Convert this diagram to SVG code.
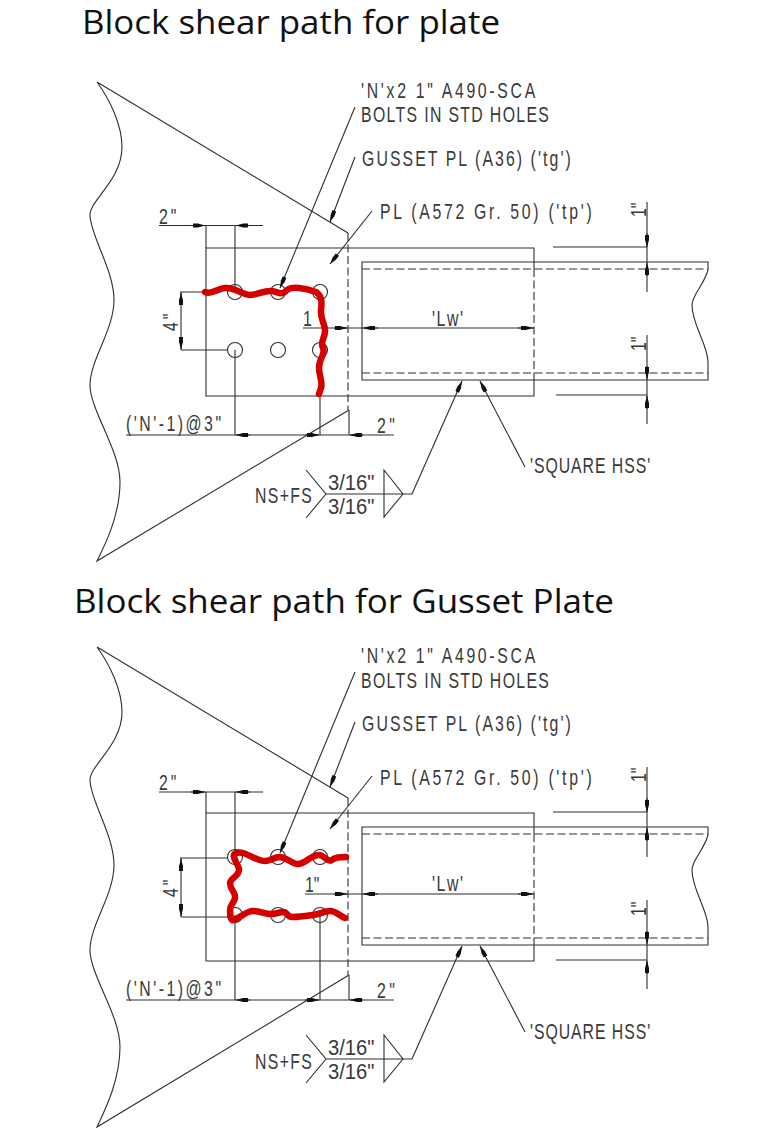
<svg xmlns="http://www.w3.org/2000/svg" width="782" height="1145" viewBox="0 0 782 1145">
<style>
.l{fill:none;stroke:#2e2e2e;stroke-width:1.1}
.d{fill:none;stroke:#2e2e2e;stroke-width:1.1;stroke-dasharray:8 3.5}
.a{fill:none;stroke:#2e2e2e;stroke-width:1.1;marker-end:url(#ah)}
.t{font-family:"Liberation Sans",sans-serif;font-size:22px;fill:#3a3a3a}
.h{font-family:"Open Sans","Noto Sans",sans-serif;font-size:33px;fill:#111}
.r{fill:none;stroke:#d40000;stroke-width:6.5;stroke-linecap:round;stroke-linejoin:round}
</style>
<defs>
<marker id="ah" markerUnits="userSpaceOnUse" markerWidth="13" markerHeight="7" refX="12" refY="3.5" orient="auto"><path d="M0,1.5 L5,1.5 L12,3.5 L5,5.5 L0,5.5 Z" fill="#111"/></marker>
</defs>
<rect width="782" height="1145" fill="#fff"/>
<text class="h" x="82" y="34" textLength="418" lengthAdjust="spacingAndGlyphs">Block shear path for plate</text>
<text class="h" x="74" y="613" textLength="540" lengthAdjust="spacingAndGlyphs">Block shear path for Gusset Plate</text>

<g id="drawing-plate">
<path class="l" d="M97,82 C110,100 122,125 122,147 C122,180 90,200 90,215 C90,235 114,270 114,300 C114,330 90,360 90,385 C90,410 120,450 120,482 C120,515 105,545 97,561 L349,410 M97,82 L348,233"/>
<path class="d" d="M348,233 V410"/>
<path class="l" d="M534,269 V248 H206 V396 H534 V373"/>
<path class="d" d="M534,269 V373"/>
<path class="l" d="M362,262 H708 V270 C704,285 692,295 692,305 C692,325 708,345 708,362 V380 H362 Z"/>
<path class="d" d="M362,269 H708 M362,373 H708"/>
<g id="holes-plate"><circle cx="235" cy="292" r="7.5" class="l"/><circle cx="278" cy="292" r="7.5" class="l"/><circle cx="320" cy="292" r="7.5" class="l"/><circle cx="235" cy="350" r="7.5" class="l"/><circle cx="278" cy="350" r="7.5" class="l"/><circle cx="320" cy="350" r="7.5" class="l"/></g>
<g id="connectors-plate">
<path class="l" d="M159,225.5 H263 M235,225.5 V288 M206,225.5 V248 M180,292 H206 M181,350 H228 M181,292 V350 M303,328 H534 M235,350 V435 M320,396 V435 M349,410 V435 M126,435 H394"/>
<path class="a" d="M191,225.5 H205"/><path class="a" d="M250,225.5 H236"/>
<path class="a" d="M181,305 V293"/><path class="a" d="M181,337 V349"/>
<path class="a" d="M334,328 H347"/><path class="a" d="M378,328 H363"/><path class="a" d="M518,328 H533"/>
<path class="a" d="M250,435 H236"/><path class="a" d="M305,435 H319"/><path class="a" d="M363,435 H350"/>
<path class="a" d="M355,107 L280,288"/><path class="a" d="M355,157 L330,222"/><path class="a" d="M372,211 L330,264"/>
<path class="a" d="M525,467 L480,381"/><path class="a" d="M412,494 L462,381"/>
<path class="l" d="M306,470 L326,494 L306,518 M326,494 H412 M384,470 L403,494 L384,517 Z"/>
<path class="l" d="M647,202 V292 M553,247 H647 M647,335 V424 M556,395 H647"/>
<path class="a" d="M647,233 V247"/><path class="a" d="M647,276 V263"/><path class="a" d="M647,366 V379"/><path class="a" d="M647,409 V396"/>
</g>
<text class="t" transform="translate(361,98) scale(.72,1)" textLength="242" lengthAdjust="spacing">'N'x2 1" A490-SCA</text>
<text class="t" transform="translate(361,122) scale(.72,1)" textLength="261" lengthAdjust="spacing">BOLTS IN STD HOLES</text>
<text class="t" transform="translate(362,166) scale(.72,1)" textLength="290" lengthAdjust="spacing">GUSSET PL (A36) ('tg')</text>
<text class="t" transform="translate(380,219) scale(.72,1)" textLength="294" lengthAdjust="spacing">PL (A572 Gr. 50) ('tp')</text>
<text class="t" transform="translate(159,224) scale(.72,1)" textLength="24" lengthAdjust="spacing">2"</text>
<text class="t" transform="translate(178,331) rotate(-90) scale(.72,1)" textLength="24" lengthAdjust="spacing">4"</text>
<text class="t" transform="translate(303,326) scale(.72,1)">1</text>
<text class="t" transform="translate(432,326) scale(.72,1)" textLength="43" lengthAdjust="spacing">'Lw'</text>
<text class="t" transform="translate(126,431) scale(.72,1)" textLength="132" lengthAdjust="spacing">('N'-1)@3"</text>
<text class="t" transform="translate(377,433) scale(.72,1)" textLength="25" lengthAdjust="spacing">2"</text>
<text class="t" transform="translate(255,503) scale(.72,1)" textLength="79" lengthAdjust="spacing">NS+FS</text>
<text class="t" transform="translate(328,490) scale(.92,1)">3/16"</text>
<text class="t" transform="translate(328,514) scale(.92,1)">3/16"</text>
<text class="t" transform="translate(530,473) scale(.72,1)" textLength="167" lengthAdjust="spacing">'SQUARE HSS'</text>
<text class="t" transform="translate(646,217) rotate(-90) scale(.72,1)">1"</text>
<text class="t" transform="translate(646,351) rotate(-90) scale(.72,1)">1"</text>
<path id="shear-path-plate" class="r" d="M205,292 C212,295 216,289 225,288 C235,287 240,294 250,295 C258,295 264,290 272,291 C278,292 282,296 287,290 C292,286 305,288 316,292 C322,296 322,302 321,310 C320,320 326,325 325,332 C324,340 320,342 323,348 C326,354 319,358 319,368 C319,376 323,382 321,388 L319,394"/>
</g>

<g id="drawing-gusset">
<path class="l" d="M97,647 C110,665 122,690 122,712 C122,745 90,765 90,780 C90,800 114,835 114,865 C114,895 90,925 90,950 C90,975 120,1015 120,1047 C120,1080 105,1110 97,1127 L349,975 M97,647 L348,798"/>
<path class="d" d="M348,798 V975"/>
<path class="l" d="M534,834 V813 H206 V961 H534 V938"/>
<path class="d" d="M534,834 V938"/>
<path class="l" d="M362,827 H708 V835 C704,850 692,860 692,870 C692,890 708,910 708,927 V945 H362 Z"/>
<path class="d" d="M362,834 H708 M362,938 H708"/>
<g id="holes-gusset"><circle cx="235" cy="857" r="7.5" class="l"/><circle cx="278" cy="857" r="7.5" class="l"/><circle cx="320" cy="857" r="7.5" class="l"/><circle cx="235" cy="915" r="7.5" class="l"/><circle cx="278" cy="915" r="7.5" class="l"/><circle cx="320" cy="915" r="7.5" class="l"/></g>
<g id="connectors-gusset">
<path class="l" d="M159,792 H263 M206,792 V813 M235,792 V853 M180,858 H228 M181,917 H228 M181,858 V917 M305,894 H534 M235,915 V1000 M320,915 V1000 M349,975 V1000 M126,1000 H394"/>
<path class="a" d="M191,792 H205"/><path class="a" d="M250,792 H236"/>
<path class="a" d="M181,871 V859"/><path class="a" d="M181,904 V916"/>
<path class="a" d="M334,894 H347"/><path class="a" d="M378,894 H363"/><path class="a" d="M518,894 H533"/>
<path class="a" d="M250,1000 H236"/><path class="a" d="M305,1000 H319"/><path class="a" d="M363,1000 H350"/>
<path class="a" d="M355,672 L280,853"/><path class="a" d="M355,722 L330,787"/><path class="a" d="M372,776 L330,829"/>
<path class="a" d="M525,1032 L480,946"/><path class="a" d="M412,1059 L462,946"/>
<path class="l" d="M306,1035 L326,1059 L306,1083 M326,1059 H412 M384,1035 L403,1059 L384,1082 Z"/>
<path class="l" d="M647,767 V857 M553,812 H647 M647,900 V989 M556,960 H647"/>
<path class="a" d="M647,798 V812"/><path class="a" d="M647,841 V828"/><path class="a" d="M647,931 V944"/><path class="a" d="M647,974 V961"/>
</g>
<text class="t" transform="translate(361,663) scale(.72,1)" textLength="242" lengthAdjust="spacing">'N'x2 1" A490-SCA</text>
<text class="t" transform="translate(361,688) scale(.72,1)" textLength="261" lengthAdjust="spacing">BOLTS IN STD HOLES</text>
<text class="t" transform="translate(362,731) scale(.72,1)" textLength="290" lengthAdjust="spacing">GUSSET PL (A36) ('tg')</text>
<text class="t" transform="translate(380,785) scale(.72,1)" textLength="294" lengthAdjust="spacing">PL (A572 Gr. 50) ('tp')</text>
<text class="t" transform="translate(159,790) scale(.72,1)" textLength="24" lengthAdjust="spacing">2"</text>
<text class="t" transform="translate(178,897) rotate(-90) scale(.72,1)" textLength="24" lengthAdjust="spacing">4"</text>
<text class="t" transform="translate(305,892) scale(.72,1)" textLength="20" lengthAdjust="spacing">1"</text>
<text class="t" transform="translate(432,891) scale(.72,1)" textLength="43" lengthAdjust="spacing">'Lw'</text>
<text class="t" transform="translate(126,996) scale(.72,1)" textLength="132" lengthAdjust="spacing">('N'-1)@3"</text>
<text class="t" transform="translate(377,998) scale(.72,1)" textLength="25" lengthAdjust="spacing">2"</text>
<text class="t" transform="translate(255,1069) scale(.72,1)" textLength="79" lengthAdjust="spacing">NS+FS</text>
<text class="t" transform="translate(328,1055) scale(.92,1)">3/16"</text>
<text class="t" transform="translate(328,1079) scale(.92,1)">3/16"</text>
<text class="t" transform="translate(530,1039) scale(.72,1)" textLength="167" lengthAdjust="spacing">'SQUARE HSS'</text>
<text class="t" transform="translate(646,782) rotate(-90) scale(.72,1)">1"</text>
<text class="t" transform="translate(646,916) rotate(-90) scale(.72,1)">1"</text>
<path id="shear-path-gusset" class="r" d="M346,857 C340,857 335,857 332,860 C328,863 326,857 320,855 C312,854 305,864 298,864 C292,864 288,858 280,857 C274,857 270,861 265,861 C258,861 250,855 243,853 C238,852 233,853 234,857 C235,862 238,864 239,869 C240,876 230,878 230,883 C230,890 236,892 235,898 C234,903 230,905 230,910 C230,916 231,921 234,920 C240,918 246,911 253,911 C260,911 265,914 271,914 C276,914 279,912 284,912 C287,912 287,917 292,917 C300,917 306,916 313,915 C320,914 325,911 330,911 C336,911 340,916 345,918"/>
</g>
</svg>
